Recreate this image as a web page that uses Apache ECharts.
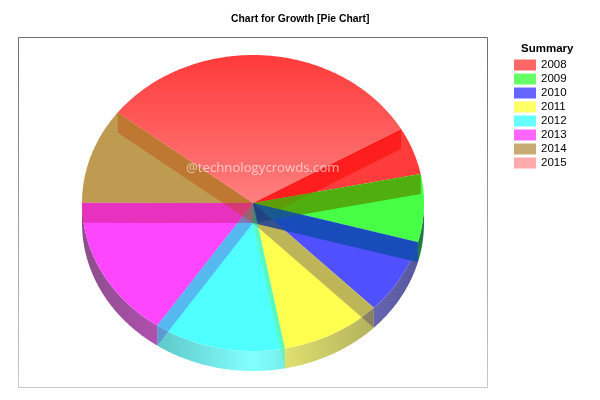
<!DOCTYPE html>
<html><head><meta charset="utf-8">
<style>html,body{margin:0;padding:0;background:#fff}#c{width:600px;height:400px}</style>
<script src="https://cdn.jsdelivr.net/npm/echarts@6/dist/echarts.min.js"></script>
</head><body><div id="c"></div>
<script>
// Data: share of each year (slices run clockwise from 2008)
var years = ['2008','2009','2010','2011','2012','2013','2014','2015'];
var growth = [5.2, 7.4, 8.25, 9.5, 12.45, 15.55, 10.45, 31.2];
var startAngle = 60; // degrees clockwise from 12 o'clock

// Styles
var legendColors = ['#ff6666','#66ff66','#6666ff','#ffff66','#66ffff','#ff66ff','#c8aa73','#ffaaaa'];
var topColors = ['#ff3c3c','#46ff46','#5050ff','#ffff50','#50ffff','#ff46ff','#be9b50','#ff7878'];
var wallColors = ['rgba(255,0,0,.5)','rgba(82,161,5,.85)','rgba(10,75,170,.8)','rgba(40,10,113,.3)',
  'rgba(105,243,92,.4)','rgba(92,80,217,.4)','rgba(192,20,92,.4)','rgba(190,67,5,.4)'];
var rimDark = ['#888','#1e7846','#55559a','#985050','#419d9d','#8a4f8a','#888','#888'];
rimDark[3] = '#989850';
var rimLight = ['#ccc','#70f070','#9090e8','#f0f078','#82ffff','#e050e0','#ccc','#ccc'];

var cx = 253, cy = 203, rx = 171, ry = 148, depth = 20;
var total = growth.reduce(function(a,b){return a+b;},0);
var bounds = [startAngle];
growth.forEach(function(v,i){ bounds.push(bounds[i] + v/total*360); });

function pt(a, dy){
  var r = a*Math.PI/180;
  return [cx + rx*Math.sin(r), cy - ry*Math.cos(r) + (dy||0)];
}
function arc(a0, a1, dy){
  var n = Math.max(2, Math.ceil(Math.abs(a1-a0)*2)), out = [];
  for (var k=0;k<=n;k++) out.push(pt(a0+(a1-a0)*k/n, dy));
  return out;
}
var lg = echarts.graphic.LinearGradient;

function topItem(i){
  return function(){
    var fill = topColors[i];
    if (years[i]==='2015') fill = new lg(0,55,0,205,[{offset:0,color:'#ff3a3a'},{offset:1,color:'#ff8080'}],true);
    return {type:'polygon', shape:{points:[[cx,cy]].concat(arc(bounds[i],bounds[i+1]))}, style:{fill:fill}};
  };
}
function rimItem(p){
  var i = p.dataIndex, a0 = Math.max(bounds[i],90), a1 = Math.min(bounds[i+1],270);
  if (a1 <= a0) return null;
  var pts = arc(a0,a1).concat(arc(a1,a0,depth));
  var fill = new lg(cx-rx,0,cx+rx,0,[
    {offset:0,color:rimDark[i]},{offset:.5,color:rimLight[i]},{offset:1,color:rimDark[i]}],true);
  return {type:'polygon', shape:{points:pts}, style:{fill:fill}};
}
function wallItem(p){
  var i = p.dataIndex, e = pt(bounds[i]);
  return {type:'polygon', shape:{points:[[cx,cy],e,[e[0],e[1]+depth],[cx,cy+depth]]},
    style:{fill:wallColors[i]}};
}

var series = years.map(function(y,i){
  return {type:'custom', name:y, coordinateSystem:'none', z:3, silent:true,
    itemStyle:{color:legendColors[i]}, renderItem:topItem(i), data:[growth[i]]};
});
series.push({type:'custom', name:'rim', coordinateSystem:'none', z:2, silent:true, renderItem:rimItem, data:growth});
series.push({type:'custom', name:'walls', coordinateSystem:'none', z:4, silent:true, renderItem:wallItem, data:growth});

var chart = echarts.init(document.getElementById('c'), null, {renderer:'canvas'});
chart.setOption({
  animation:false,
  backgroundColor:'#fff',
  title:[
    {text:'Chart for Growth [Pie Chart]', left:231, top:14, padding:0,
     textStyle:{fontFamily:'Liberation Sans',fontSize:10.4,fontWeight:'bold',color:'#000'}},
    {text:'Summary', left:521, top:43, padding:0,
     textStyle:{fontFamily:'Liberation Sans',fontSize:11.5,fontWeight:'bold',color:'#000'}}
  ],
  legend:{data:years, orient:'vertical', left:514, top:59, padding:0, itemWidth:22, itemHeight:11, itemGap:2,
    icon:'rect', selectedMode:false, textStyle:{fontFamily:'Liberation Sans',fontSize:11.5,color:'#000'}},
  graphic:[
    {type:'rect', z:1, shape:{x:18.5,y:37.5,width:469,height:350},
     style:{fill:'#fff',lineWidth:1,stroke:new lg(0,37,0,388,[{offset:0,color:'#6e6e6e'},{offset:1,color:'#c8c8c8'}],true)}},
    {type:'text', z:100, x:186, y:162, style:{text:'@technologycrowds.com', fill:'rgba(255,255,255,.6)',
      font:'13.2px "Open Sans"'}}
  ],
  series:series
});
</script></body></html>
